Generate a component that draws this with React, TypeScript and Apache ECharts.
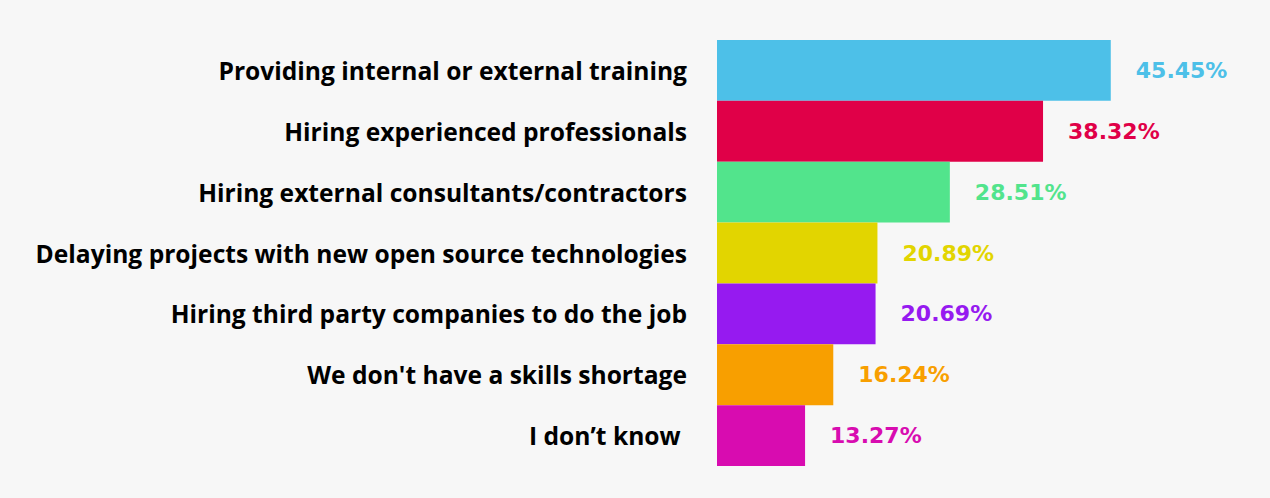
import React, { useEffect, useRef } from "react";
import * as echarts from "echarts";

const categories = [
  "Providing internal or external training",
  "Hiring experienced professionals",
  "Hiring external consultants/contractors",
  "Delaying projects with new open source technologies",
  "Hiring third party companies to do the job",
  "We don't have a skills shortage",
  "I don’t know ",
];
const values = [45.45, 38.32, 28.51, 20.89, 20.69, 16.24, 13.27];
const colors = ["#4DC0E8", "#E00048", "#52E48C", "#E2D500", "#961AF0", "#F89F00", "#D80CB0"];

export default function App() {
  const ref = useRef<HTMLDivElement>(null);
  useEffect(() => {
    if (!ref.current) return;
    const chart = echarts.init(ref.current, undefined, { renderer: "svg" });
    chart.setOption({
      animation: false,
      backgroundColor: "#F7F7F7",
      grid: { left: 717, right: 21, top: 40, bottom: 32, containLabel: false, outerBoundsMode: "none" },
      xAxis: {
        type: "value",
        min: 4,
        max: 60,
        show: false,
      },
      yAxis: {
        type: "category",
        data: categories,
        inverse: true,
        axisLine: { show: false },
        axisTick: { show: false },
        splitLine: { show: false },
        axisLabel: {
          margin: 30,
          color: "#000000",
          fontFamily: "Open Sans",
          fontWeight: "bold",
          fontSize: 24.6,
        },
      },
      series: [
        {
          type: "bar",
          barWidth: "100%",
          barCategoryGap: 0,
          data: values.map((v, i) => ({
            value: v,
            itemStyle: { color: colors[i] },
            label: { color: colors[i] },
          })),
          label: {
            show: true,
            position: "right",
            distance: 25,
            fontFamily: "DejaVu Sans",
            fontWeight: "bold",
            fontSize: 22,
            formatter: (p: any) => p.value.toFixed(2) + "%",
          },
        },
      ],
    });
    return () => chart.dispose();
  }, []);
  return (
    <div
      ref={ref}
      style={{ position: "fixed", left: 0, top: 0, width: 1270, height: 498 }}
    />
  );
}
